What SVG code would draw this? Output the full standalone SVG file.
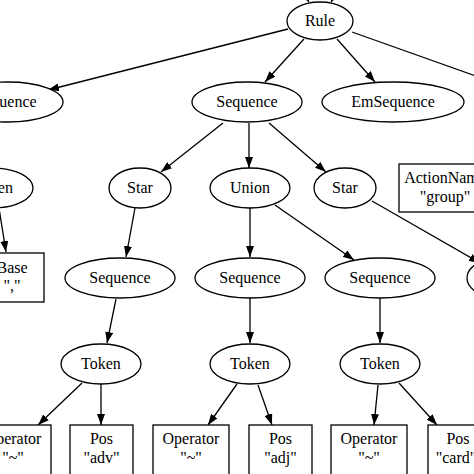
<svg xmlns="http://www.w3.org/2000/svg" width="474" height="474" viewBox="0 0 474 474">
<style>
.n ellipse,.n rect{fill:#fff;stroke:#000;stroke-width:1.3}
text{font-family:"Liberation Serif","Times New Roman",serif;font-size:16px;text-anchor:middle;fill:#000}
.e line{stroke:#000;stroke-width:1.3;marker-end:url(#a)}
</style>
<defs>
<marker id="a" markerUnits="userSpaceOnUse" markerWidth="11" markerHeight="8" refX="11" refY="4" orient="auto">
<path d="M0,0 L11,4 L0,8 z" fill="#000"/>
</marker>
</defs>
<rect width="474" height="474" fill="#fff"/>
<g id="connectors" class="e">
<line x1="292" y1="-22" x2="309" y2="2"/>
<line x1="348" y1="-22" x2="331" y2="2"/>
<line x1="288" y1="29" x2="48" y2="90"/>
<line x1="304" y1="39" x2="265" y2="82"/>
<line x1="337" y1="39" x2="375" y2="82"/>
<line x1="352" y1="32" x2="490" y2="81" style="marker-end:none"/>
<line x1="223" y1="123" x2="161" y2="172"/>
<line x1="249" y1="123" x2="249" y2="168"/>
<line x1="269" y1="123" x2="326" y2="172"/>
<line x1="-1" y1="208" x2="6" y2="252"/>
<line x1="135" y1="208" x2="126" y2="257"/>
<line x1="250" y1="208" x2="250" y2="257"/>
<line x1="275" y1="205" x2="354" y2="260"/>
<line x1="372" y1="201" x2="480" y2="263"/>
<line x1="116" y1="299" x2="107" y2="343"/>
<line x1="250" y1="298" x2="250" y2="343"/>
<line x1="380" y1="298" x2="380" y2="343"/>
<line x1="82" y1="383" x2="38" y2="425"/>
<line x1="101" y1="384" x2="101" y2="425"/>
<line x1="237" y1="384" x2="208" y2="425"/>
<line x1="258" y1="385" x2="272" y2="425"/>
<line x1="378" y1="385" x2="374" y2="425"/>
<line x1="399" y1="383" x2="437" y2="425"/>
</g>
<g id="rule" class="n"><ellipse cx="320" cy="21" rx="33" ry="19"/><text x="320" y="26">Rule</text></g>
<g id="seq-left" class="n"><ellipse cx="8" cy="102" rx="55" ry="20"/><text x="6" y="107">Sequence</text></g>
<g id="seq-main" class="n"><ellipse cx="247" cy="102" rx="55" ry="20"/><text x="247" y="107">Sequence</text></g>
<g id="emseq" class="n"><ellipse cx="393" cy="102" rx="71" ry="20"/><text x="393" y="107">EmSequence</text></g>
<g id="token-left" class="n"><ellipse cx="-7" cy="188" rx="40" ry="20"/><text x="-7" y="193">Token</text></g>
<g id="star1" class="n"><ellipse cx="140" cy="188" rx="31" ry="20"/><text x="140" y="193">Star</text></g>
<g id="union" class="n"><ellipse cx="250" cy="188" rx="40" ry="20"/><text x="250" y="193">Union</text></g>
<g id="star2" class="n"><ellipse cx="345" cy="188" rx="31" ry="20"/><text x="345" y="193">Star</text></g>
<g id="actionname" class="n"><rect x="399" y="164" width="92" height="48"/><text x="445" y="183">ActionName</text><text x="445" y="202">"group"</text></g>
<g id="base" class="n"><rect x="-20" y="253" width="64" height="49"/><text x="12" y="273">Base</text><text x="12" y="291">","</text></g>
<g id="seq1" class="n"><ellipse cx="120" cy="278" rx="55" ry="20"/><text x="120" y="283">Sequence</text></g>
<g id="seq2" class="n"><ellipse cx="250" cy="278" rx="55" ry="20"/><text x="250" y="283">Sequence</text></g>
<g id="seq3" class="n"><ellipse cx="380" cy="278" rx="55" ry="20"/><text x="380" y="283">Sequence</text></g>
<g id="right-node" class="n"><ellipse cx="500" cy="278" rx="33" ry="20"/></g>
<g id="token1" class="n"><ellipse cx="101" cy="364" rx="40" ry="20"/><text x="101" y="369">Token</text></g>
<g id="token2" class="n"><ellipse cx="250" cy="364" rx="40" ry="20"/><text x="250" y="369">Token</text></g>
<g id="token3" class="n"><ellipse cx="380" cy="364" rx="40" ry="20"/><text x="380" y="369">Token</text></g>
<g id="op1" class="n"><rect x="-25" y="425" width="76" height="60"/><text x="13" y="444">Operator</text><text x="13" y="463">"~"</text></g>
<g id="pos1" class="n"><rect x="70" y="425" width="63" height="60"/><text x="101.5" y="444">Pos</text><text x="101.5" y="463">"adv"</text></g>
<g id="op2" class="n"><rect x="153" y="425" width="76" height="60"/><text x="191" y="444">Operator</text><text x="191" y="463">"~"</text></g>
<g id="pos2" class="n"><rect x="249" y="425" width="63" height="60"/><text x="280.5" y="444">Pos</text><text x="280.5" y="463">"adj"</text></g>
<g id="op3" class="n"><rect x="331" y="425" width="76" height="60"/><text x="369" y="444">Operator</text><text x="369" y="463">"~"</text></g>
<g id="pos3" class="n"><rect x="428" y="425" width="60" height="60"/><text x="458" y="444">Pos</text><text x="456" y="463">"card"</text></g>
</svg>
